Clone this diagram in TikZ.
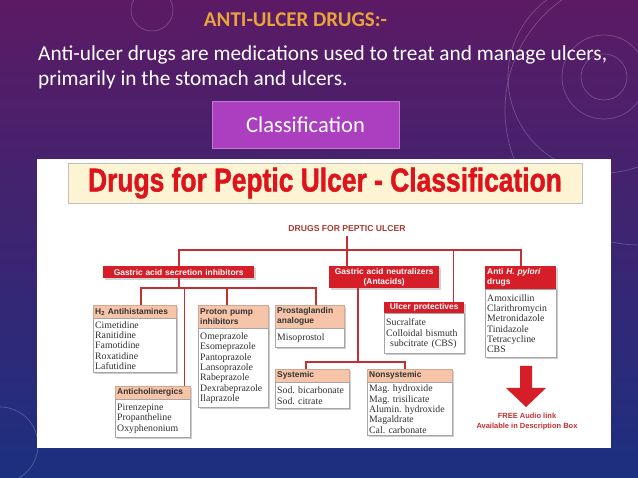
\documentclass[tikz,border=0pt]{standalone}
\usepackage{fontspec}
\usepackage{graphicx}
\setmainfont{Carlito}
\newfontfamily\labelfont{Liberation Sans}
\newfontfamily\drugfont{Liberation Serif}
\newfontfamily\bannerfont[FakeBold=1.6]{Liberation Sans Bold}
\usetikzlibrary{positioning, shadows}
\definecolor{slidepurple}{RGB}{92, 26, 100}
\definecolor{slidemid}{RGB}{64, 30, 112}
\definecolor{slideblue}{RGB}{28, 48, 128}
\definecolor{titlegold}{RGB}{232, 163, 61}
\definecolor{classpurple}{RGB}{172, 62, 192}
\definecolor{bannerfill}{RGB}{253, 244, 212}
\definecolor{bannerred}{RGB}{222, 20, 28}
\definecolor{treered}{RGB}{196, 48, 50}
\definecolor{headred}{RGB}{214, 30, 40}
\definecolor{headsalmon}{RGB}{246, 196, 168}
\definecolor{rootbrown}{RGB}{165, 60, 50}
\definecolor{itemgray}{RGB}{48, 48, 48}
\newcommand{\hdfont}{\labelfont\bfseries\fontsize{8.4}{10}\selectfont}
\newcommand{\drugtext}{\drugfont\fontsize{9.8}{10.3}\selectfont}
\tikzset{
  slidetext/.style={text=white, font=\fontsize{21.3}{25}\selectfont, align=left, inner sep=0pt},
  classbox/.style={rectangle, draw=classpurple!70!white, fill=classpurple, text=white,
                   minimum width=187pt, minimum height=47pt, font=\fontsize{22.5}{26}\selectfont},
  panel/.style={rectangle, fill=white, minimum width=574pt, minimum height=289pt},
  banner/.style={rectangle, draw=black!25, fill=bannerfill, text=bannerred,
                 minimum width=514pt, minimum height=40pt, inner sep=0pt,
                 font=\bannerfont\fontsize{33}{36}\selectfont},
  redhead/.style={rectangle, fill=headred, text=white, font=\hdfont, text width=#1,
                  align=center, inner xsep=2pt, inner ysep=1pt, anchor=north west,
                  drop shadow={shadow xshift=1.5pt, shadow yshift=-1.5pt, opacity=0.35}},
  pinkhead/.style={rectangle, draw=headsalmon!85!black, fill=headsalmon, text=black!80,
                   font=\hdfont, text width=#1, align=left, inner xsep=2pt, inner ysep=1pt,
                   anchor=north west,
                   drop shadow={shadow xshift=1.5pt, shadow yshift=-1.5pt, opacity=0.35}},
  drugbox/.style={rectangle, draw=black!35, fill=white, text=itemgray, font=\drugtext,
                  text width=#1, align=left, inner xsep=2pt, inner ysep=2pt,
                  drop shadow={shadow xshift=1.5pt, shadow yshift=-1.5pt, opacity=0.4}},
  link/.style={draw=treered, line width=1.8pt},
  ring/.style={draw=white, opacity=0.22, line width=0.7pt},
}
\begin{document}
\begin{tikzpicture}[x=1pt, y=-1pt]
\useasboundingbox (0,0) rectangle (638,478);
\shade[top color=slidepurple, middle color=slidemid, bottom color=slideblue] (0,0) rectangle (638,478);
\begin{scope}
  \clip (0,0) rectangle (638,478);
  \draw[ring] (152,10) circle (21);
  \draw[ring] (604,77) circle (23);
  \draw[ring] (604,77) circle (42);
  \draw[ring] (604,77) circle (96);
  \draw[ring] (640,110) circle (135);
  \draw[ring] (0,445) circle (38);
\end{scope}

\node[font=\fontsize{21}{25}\selectfont\bfseries, text=titlegold] (title) at (295.5,20) {ANTI-ULCER DRUGS:-};
\node[slidetext, anchor=north west] (intro) at (38,46)
     {Anti-ulcer drugs are medications used to treat and manage ulcers,\\
      primarily in the stomach and ulcers.};
\node[classbox] (classify) at (305.5,124.5) {Classification};

\node[panel] (panel) at (324,303.5) {};
\node[banner] (banner) at (325,183) {\scalebox{0.8}[1]{Drugs for Peptic Ulcer - Classification}};
\node[font=\labelfont\bfseries\fontsize{8.6}{10}\selectfont, text=rootbrown] (root) at (347,229) {DRUGS FOR PEPTIC ULCER};

\node[redhead=147pt, minimum height=12pt] (sec) at (103,266) {Gastric acid secretion inhibitors};
\node[redhead=106pt, minimum height=22pt] (neut) at (329,266) {Gastric acid neutralizers\\(Antacids)};
\node[redhead=76pt, minimum height=11pt] (ulc) at (384,302) {Ulcer protectives};
\node[redhead=67pt, minimum height=23pt, align=left] (hpy) at (485,266) {Anti \textit{H. pylori}\\drugs};

\node[pinkhead=79pt, minimum height=13pt] (h2) at (93,305) {H\textsubscript{2} Antihistamines};
\node[pinkhead=66pt, minimum height=23pt] (ppi) at (198,305) {Proton pump\\inhibitors};
\node[pinkhead=65pt, minimum height=23pt] (pg) at (275,305) {Prostaglandin\\analogue};
\node[pinkhead=71pt, minimum height=13pt] (ach) at (115,386) {Anticholinergics};
\node[pinkhead=70pt, minimum height=13pt] (sys) at (275,369) {Systemic};
\node[pinkhead=81pt, minimum height=13pt] (nsys) at (367,369) {Nonsystemic};

\node[drugbox=79pt, minimum height=54pt, below=0pt of h2] (h2list)
     {Cimetidine\\Ranitidine\\Famotidine\\Roxatidine\\Lafutidine};
\node[drugbox=66pt, minimum height=79pt, below=0pt of ppi] (ppilist)
     {Omeprazole\\Esomeprazole\\Pantoprazole\\Lansoprazole\\Rabeprazole\\Dexrabeprazole\\Ilaprazole};
\node[drugbox=65pt, minimum height=19pt, below=0pt of pg] (pglist) {Misoprostol};
\node[drugbox=71pt, minimum height=38pt, below=0pt of ach] (achlist)
     {Pirenzepine\\Propantheline\\Oxyphenonium};
\node[drugbox=70pt, minimum height=26pt, below=0pt of sys] (syslist)
     {Sod.~bicarbonate\\Sod.~citrate};
\node[drugbox=81pt, minimum height=53pt, below=0pt of nsys] (nsyslist)
     {Mag.~hydroxide\\Mag.~trisilicate\\Alumin.~hydroxide\\Magaldrate\\Cal.~carbonate};
\node[drugbox=76pt, minimum height=40pt, below=0pt of ulc] (ulclist)
     {Sucralfate\\Colloidal bismuth\\\hspace*{4pt}subcitrate (CBS)};
\node[drugbox=67pt, minimum height=68pt, below=0pt of hpy] (hpylist)
     {Amoxicillin\\Clarithromycin\\Metronidazole\\Tinidazole\\Tetracycline\\CBS};

\coordinate (hub) at (347,250);
\draw[link] (root.south) -- (root.south |- neut.north);
\draw[link] (sec.north) |- (hub) -| (hpy.north);
\draw[link] ([xshift=-11pt]ulc.north east) -- ([xshift=-11pt]ulc.north east |- hub);
\draw[link] (sec.south) -- ++(0,10) coordinate (sj);
\draw[link] ([xshift=6.5pt]h2.north) |- (sj) -| ([xshift=6.5pt]pg.north);
\draw[link] ([xshift=-6pt]ppi.north) -- ([xshift=-6pt]ppi.north |- sj);
\draw[link] ([xshift=-6pt]ach.north east) -- ([xshift=-6pt]ach.north east |- sj);
\draw[link] ([xshift=-26pt]neut.south) -- ++(0,74) coordinate (nj);
\draw[link] ([xshift=-6pt]sys.north) |- (nj) -| ([xshift=-4.5pt]nsys.north);

\coordinate (audio) at (526,366);
\fill[headred] (audio) ++(-6,0) -- ++(12,0) -- ++(0,22) -- ++(14,0) -- ++(-20,19)
     -- ++(-20,-19) -- ++(14,0) -- cycle;
\node[font=\labelfont\bfseries\fontsize{7.5}{10}\selectfont, text=treered, align=center]
     (audionote) at (527,422) {FREE Audio link\\Available in Description Box};
\end{tikzpicture}
\end{document}
